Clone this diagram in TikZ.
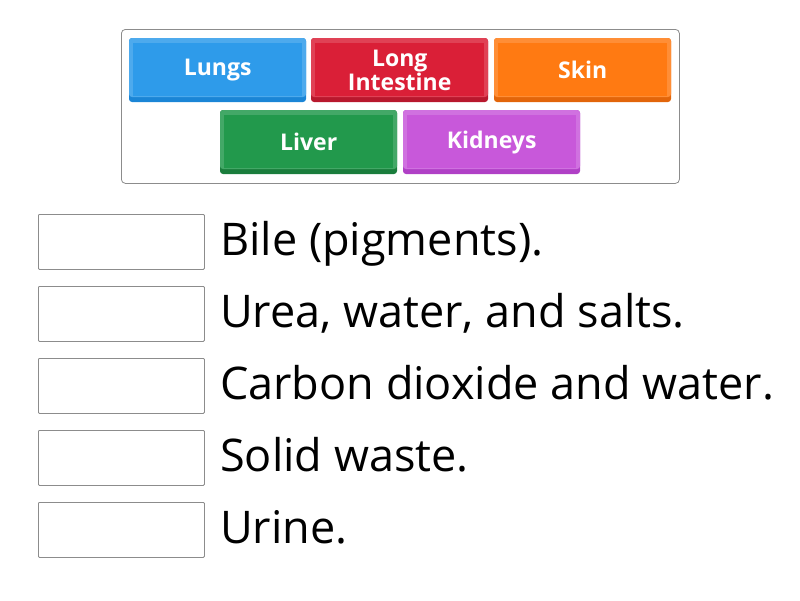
\documentclass[tikz,border=0pt]{standalone}
\usepackage{fontspec}
\setmainfont{Open Sans}
\begin{document}
\begin{tikzpicture}[x=1pt,y=-1pt,
  tile/.style={minimum width=177pt,minimum height=64pt,inner sep=0pt,rounded corners=3pt,
    text=white,font=\fontsize{23}{24}\selectfont\bfseries,align=center},
  ansbox/.style={draw=black!45,line width=0.8pt,rounded corners=1pt,minimum width=166pt,minimum height=55pt,inner sep=0pt,anchor=north west},
  clue/.style={anchor=base west,inner sep=0pt,font=\fontsize{45}{45}\selectfont,text=black}]
\useasboundingbox (0,0) rectangle (800,600);
\definecolor{blueA}{HTML}{2E9BEA}\definecolor{blueB}{HTML}{1A85D6}
\definecolor{redA}{HTML}{DA1F37}\definecolor{redB}{HTML}{B8182D}
\definecolor{orgA}{HTML}{FF7A12}\definecolor{orgB}{HTML}{E2650A}
\definecolor{grnA}{HTML}{22994C}\definecolor{grnB}{HTML}{1A7D3C}
\definecolor{purA}{HTML}{C858DA}\definecolor{purB}{HTML}{B040C6}
\node[draw=black!45,line width=0.8pt,rounded corners=4pt,minimum width=558pt,minimum height=154pt,anchor=north west,inner sep=0pt] (panel) at (121,29) {};
% tiles
\foreach \nm/\x/\y/\ca/\cb/\txt in {lungs/129/38/blueA/blueB/Lungs,
  intest/311/38/redA/redB/{Long\\Intestine},
  skin/494/38/orgA/orgB/Skin,
  liver/220/110/grnA/grnB/Liver,
  kid/403/110/purA/purB/Kidneys}{
  \fill[\cb,rounded corners=3pt] (\x,\y) rectangle ++(177,64);
  \fill[\ca!85!white,rounded corners=3pt] (\x,\y) rectangle ++(177,59);
  \fill[\ca] (\x+4,\y+5) rectangle ++(169,53);
  \node[tile,anchor=north west] (\nm) at (\x,\y) {\txt};
}
% answer boxes and clues
\foreach \i/\y/\txt in {1/214/Bile (pigments).,2/286/{Urea, water, and salts.},3/358/Carbon dioxide and water.,4/430/Solid waste.,5/502/Urine.}{
  \node[ansbox] (box\i) at (38,\y) {};
  \node[clue] (clue\i) at (220,\y+41) {\txt};
}
\end{tikzpicture}
\end{document}
